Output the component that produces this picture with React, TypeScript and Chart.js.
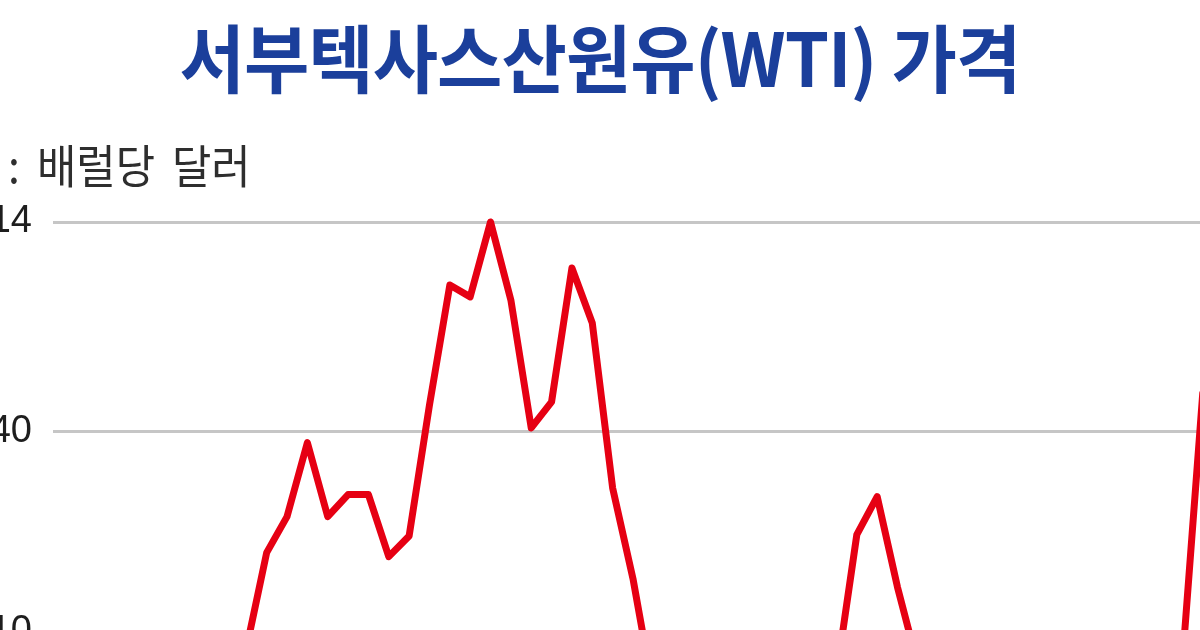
import React, { useEffect, useRef } from "react";
import { Chart, registerables, LinearScale } from "chart.js";

// ---- data ----
const TITLE = "서부텍사스산원유(WTI) 가격";
const UNIT = ": 배럴당 달러";
const Y_TICKS = [10, 40, 114];
const WTI_PRICE = [
  6, 5, 7, 4, 6, 8, 5, 7, 6, 7.5,
  21.9, 27.3, 38.4, 27.3, 30.6, 30.6, 21.3, 24.4, 49.5, 91.8,
  87.6, 114, 86.5, 41.4, 50.6, 97.8, 78.4, 31.6, 18.0, 1,
  4, 6, 3, 5, 7, 4, 6, 5, 3.6, 24.6,
  30.3, 16.7, 5, 7, 4, 6, 3, 5, 8, 6,
  4, 7, 5, 3, 6, 5.5, 53.7, 62,
];
const PERIODS = WTI_PRICE.map((_, i) => String(i + 1));

// evenly spaced gridlines for the uneven labels 10 / 40 / 114
const BAND_DECIMALS = [0, 0.488, 1];

function toDecimal(v: number): number {
  const t = Y_TICKS;
  const d = BAND_DECIMALS;
  const k = v >= t[1] ? 1 : 0;
  const slope = (d[k + 1] - d[k]) / (t[k + 1] - t[k]);
  return d[k] + (v - t[k]) * slope;
}
function fromDecimal(dec: number): number {
  const t = Y_TICKS;
  const d = BAND_DECIMALS;
  const k = dec >= d[1] ? 1 : 0;
  const slope = (t[k + 1] - t[k]) / (d[k + 1] - d[k]);
  return t[k] + (dec - d[k]) * slope;
}

class BandedLinearScale extends LinearScale {
  static id = "bandedLinear";
  static defaults = LinearScale.defaults;
  getPixelForValue(value: any) {
    if (value === null || value === undefined || isNaN(value)) return NaN;
    return this.getPixelForDecimal(toDecimal(+value));
  }
  getValueForPixel(pixel: number) {
    return fromDecimal(this.getDecimalForPixel(pixel));
  }
}

Chart.register(...registerables, BandedLinearScale);

const LABEL_FONT = '"Liberation Sans", Arial, sans-serif';

export default function App() {
  const ref = useRef<HTMLCanvasElement | null>(null);

  useEffect(() => {
    if (!ref.current) return;
    const chart = new Chart(ref.current, {
      type: "line",
      data: {
        labels: PERIODS,
        datasets: [
          {
            data: WTI_PRICE,
            borderColor: "#e60013",
            borderWidth: 7,
            pointRadius: 0,
            tension: 0,
            borderJoinStyle: "round",
            borderCapStyle: "round",
            clip: false as any,
          },
        ],
      },
      options: {
        animation: false,
        responsive: false,
        devicePixelRatio: 1,
        layout: { padding: { top: 222, right: 26.7, bottom: 128, left: 0 } },
        plugins: { legend: { display: false }, tooltip: { enabled: false }, title: { display: false } },
        scales: {
          x: { type: "category", display: false, offset: true },
          y: {
            type: "bandedLinear" as any,
            min: 10,
            max: 114,
            afterFit: (s: any) => {
              s.width = 93;
            },
            afterBuildTicks: (s: any) => {
              s.ticks = Y_TICKS.map((v) => ({ value: v }));
            },
            ticks: {
              padding: 21,
              color: "#1e1e1e",
              font: { family: LABEL_FONT, size: 38 },
              callback: (v: any) => String(v),
            },
            grid: { color: "#c6c6c6", lineWidth: 3, drawTicks: false },
            border: { display: false },
          },
        },
      },
    });
    return () => chart.destroy();
  }, []);

  return (
    <div
      style={{
        position: "fixed",
        left: 0,
        top: 0,
        width: 1200,
        height: 630,
        overflow: "hidden",
        background: "#fff",
      }}
    >
      <div style={{ position: "absolute", left: -40, top: 0, width: 1300, height: 760 }}>
        <canvas ref={ref} width={1300} height={760} style={{ width: 1300, height: 760, display: "block" }} />
      </div>
      <div
        style={{
          position: "absolute",
          left: 0,
          top: 18,
          width: 1200,
          textAlign: "center",
          whiteSpace: "nowrap",
        }}
      >
        <span
          style={{
            display: "inline-block",
            transform: "scaleX(0.96)",
            fontFamily: '"Noto Sans CJK KR", sans-serif',
            fontWeight: 700,
            fontSize: 74,
            lineHeight: 1,
            color: "#1b3f9b",
            letterSpacing: -1,
          }}
        >
          {TITLE}
        </span>
      </div>
      <div
        style={{
          position: "absolute",
          left: 8,
          top: 140,
          whiteSpace: "pre",
          transformOrigin: "left top",
          transform: "scaleX(0.93)",
          fontFamily: '"Noto Sans CJK KR", sans-serif',
          fontSize: 46,
          lineHeight: 1,
          color: "#2e2e2e",
          wordSpacing: 8,
        }}
      >
        {UNIT}
      </div>
    </div>
  );
}
